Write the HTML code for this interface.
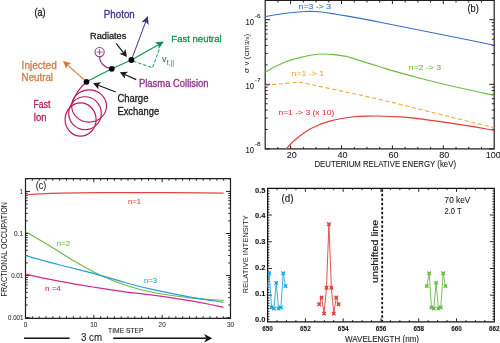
<!DOCTYPE html>
<html><head><meta charset="utf-8"><title>Figure</title>
<style>
html,body{margin:0;padding:0;background:#fff;}
body{width:500px;height:343px;overflow:hidden;position:relative;}
svg{position:absolute;left:0;top:0;display:block;}
text{font-family:'Liberation Sans',Arial,sans-serif;}
.t{stroke-width:0.3px;paint-order:stroke;}
</style></head><body>
<svg width="500" height="343" viewBox="0 0 500 343">
<rect width="500" height="343" fill="#fff"/>
<g fill="none" stroke="#bb1955" stroke-width="1.15">
<path d="M86.3,82.2 Q76.5,90 71.8,103.8"/>
<ellipse cx="89.1" cy="106" rx="17.4" ry="16.1"/>
<ellipse cx="85" cy="113.2" rx="16.3" ry="16.5"/>
<ellipse cx="80.6" cy="119.5" rx="15.5" ry="16.6"/>
</g>
<path d="M63,61 L71.14,63.27 L67.42,64.91 L66.24,68.81 Z" fill="#d8732f"/>
<line x1="86.5" y1="81.8" x2="67.42" y2="64.91" stroke="#d8732f" stroke-width="1.1"/>
<path d="M163.9,41.6 L158.64,48.95 L158.42,44.7 L154.89,42.33 Z" fill="#119350"/>
<path d="M86.5,81.8 L111.8,68.8 L131.4,60 L158.42,44.7" fill="none" stroke="#119350" stroke-width="1.1"/>
<path d="M147.9,15.9 L148.68,24.95 L145.69,21.8 L141.37,22.21 Z" fill="#43318c"/>
<line x1="131.4" y1="60" x2="145.69" y2="21.8" stroke="#43318c" stroke-width="1.0"/>
<path d="M133.4,61.2 L152.5,67.8 L159.9,47.6" fill="none" stroke="#119350" stroke-width="1.0" stroke-dasharray="3.3,1.9"/>
<circle cx="99.6" cy="52.1" r="4.6" fill="none" stroke="#8e2f8c" stroke-width="1.05"/>
<path d="M96.6,52.1 H102.6 M99.6,49.1 V55.1" stroke="#8e2f8c" stroke-width="0.8"/>
<path d="M99.6,56.7 C99.6,63 105,67.8 111,68.6" fill="none" stroke="#8e2f8c" stroke-width="1.2"/>
<circle cx="86.5" cy="81.8" r="2.9" fill="#0a0a14"/>
<circle cx="111.8" cy="68.8" r="2.9" fill="#0a0a14"/>
<circle cx="131.4" cy="60" r="2.9" fill="#0a0a14"/>
<path d="M127,57.1 L119.35,53.71 L123.59,52.78 L125.47,48.88 Z" fill="#1a1a1a"/>
<line x1="116.1" y1="43.3" x2="123.59" y2="52.78" stroke="#1a1a1a" stroke-width="1.25"/>
<path d="M119.8,72.3 L128.15,71.75 L124.82,74.54 L124.97,78.87 Z" fill="#1a1a1a"/>
<line x1="136.2" y1="79.6" x2="124.82" y2="74.54" stroke="#1a1a1a" stroke-width="1.25"/>
<path d="M93,83.3 L101.3,82.29 L98.14,85.26 L98.52,89.58 Z" fill="#1a1a1a"/>
<line x1="115.8" y1="92" x2="98.14" y2="85.26" stroke="#1a1a1a" stroke-width="1.25"/>
<text x="34.6" y="16.3" font-size="10.2" fill="#1a1a1a" stroke="#1a1a1a" stroke-width="0.3" textLength="11" lengthAdjust="spacingAndGlyphs" font-family="'Liberation Sans', Arial, sans-serif">(a)</text>
<text x="103.8" y="18" font-size="10" fill="#43318c" stroke="#43318c" stroke-width="0.3" textLength="31" lengthAdjust="spacingAndGlyphs" font-family="'Liberation Sans', Arial, sans-serif">Photon</text>
<text x="90.1" y="39" font-size="9.6" fill="#1a1a1a" stroke="#1a1a1a" stroke-width="0.3" textLength="36.2" lengthAdjust="spacingAndGlyphs" font-family="'Liberation Sans', Arial, sans-serif">Radiates</text>
<text x="171.3" y="41.6" font-size="9.3" fill="#119350" stroke="#119350" stroke-width="0.3" textLength="50.4" lengthAdjust="spacingAndGlyphs" font-family="'Liberation Sans', Arial, sans-serif">Fast neutral</text>
<text x="162" y="62.3" font-size="9" fill="#119350" stroke="#119350" stroke-width="0.05" font-family="'Liberation Sans', Arial, sans-serif">v</text>
<text x="166.5" y="65.4" font-size="6.4" fill="#119350" textLength="7.6" lengthAdjust="spacingAndGlyphs" font-family="'Liberation Sans', Arial, sans-serif">f,||</text>
<text x="21.6" y="68.9" font-size="10.4" fill="#d47a45" stroke="#d47a45" stroke-width="0.3" textLength="35.2" lengthAdjust="spacingAndGlyphs" font-family="'Liberation Sans', Arial, sans-serif">Injected</text>
<text x="21.6" y="81.1" font-size="10.4" fill="#d47a45" stroke="#d47a45" stroke-width="0.3" textLength="31.4" lengthAdjust="spacingAndGlyphs" font-family="'Liberation Sans', Arial, sans-serif">Neutral</text>
<text x="139" y="86.7" font-size="10" fill="#8e2f8c" stroke="#8e2f8c" stroke-width="0.3" textLength="69.6" lengthAdjust="spacingAndGlyphs" font-family="'Liberation Sans', Arial, sans-serif">Plasma Collision</text>
<text x="117.4" y="102" font-size="10.2" fill="#1a1a1a" stroke="#1a1a1a" stroke-width="0.3" textLength="31" lengthAdjust="spacingAndGlyphs" font-family="'Liberation Sans', Arial, sans-serif">Charge</text>
<text x="117.4" y="114.8" font-size="10.2" fill="#1a1a1a" stroke="#1a1a1a" stroke-width="0.3" textLength="41.8" lengthAdjust="spacingAndGlyphs" font-family="'Liberation Sans', Arial, sans-serif">Exchange</text>
<text x="33.6" y="108.2" font-size="10.4" fill="#b0205e" stroke="#b0205e" stroke-width="0.3" textLength="16.8" lengthAdjust="spacingAndGlyphs" font-family="'Liberation Sans', Arial, sans-serif">Fast</text>
<text x="33.4" y="120.6" font-size="10.4" fill="#b0205e" stroke="#b0205e" stroke-width="0.3" textLength="13.2" lengthAdjust="spacingAndGlyphs" font-family="'Liberation Sans', Arial, sans-serif">Ion</text>
<path d="M265.2,0.5 H494.2 V148.9 H265.2 Z" fill="none" stroke="#231f20" stroke-width="1.2"/>
<path d="M277.92,148.9 v-2 M277.92,0.5 v2 M290.64,148.9 v-3.5 M290.64,0.5 v3.5 M303.37,148.9 v-2 M303.37,0.5 v2 M316.09,148.9 v-2 M316.09,0.5 v2 M328.81,148.9 v-2 M328.81,0.5 v2 M341.53,148.9 v-3.5 M341.53,0.5 v3.5 M354.26,148.9 v-2 M354.26,0.5 v2 M366.98,148.9 v-2 M366.98,0.5 v2 M379.7,148.9 v-2 M379.7,0.5 v2 M392.42,148.9 v-3.5 M392.42,0.5 v3.5 M405.14,148.9 v-2 M405.14,0.5 v2 M417.87,148.9 v-2 M417.87,0.5 v2 M430.59,148.9 v-2 M430.59,0.5 v2 M443.31,148.9 v-3.5 M443.31,0.5 v3.5 M456.03,148.9 v-2 M456.03,0.5 v2 M468.76,148.9 v-2 M468.76,0.5 v2 M481.48,148.9 v-2 M481.48,0.5 v2 M265.2,148.9 h5 M494.2,148.9 h-5 M265.2,129.45 h2.4 M494.2,129.45 h-2.4 M265.2,118.08 h2.4 M494.2,118.08 h-2.4 M265.2,110.01 h2.4 M494.2,110.01 h-2.4 M265.2,103.75 h2.4 M494.2,103.75 h-2.4 M265.2,98.63 h2.4 M494.2,98.63 h-2.4 M265.2,94.31 h2.4 M494.2,94.31 h-2.4 M265.2,90.56 h2.4 M494.2,90.56 h-2.4 M265.2,87.26 h2.4 M494.2,87.26 h-2.4 M265.2,84.3 h5 M494.2,84.3 h-5 M265.2,64.85 h2.4 M494.2,64.85 h-2.4 M265.2,53.48 h2.4 M494.2,53.48 h-2.4 M265.2,45.41 h2.4 M494.2,45.41 h-2.4 M265.2,39.15 h2.4 M494.2,39.15 h-2.4 M265.2,34.03 h2.4 M494.2,34.03 h-2.4 M265.2,29.71 h2.4 M494.2,29.71 h-2.4 M265.2,25.96 h2.4 M494.2,25.96 h-2.4 M265.2,22.66 h2.4 M494.2,22.66 h-2.4 M265.2,19.7 h5 M494.2,19.7 h-5" stroke="#231f20" stroke-width="1.0" fill="none"/>
<path d="M265.2,16.7 C267,16.37 272.2,15.32 276,14.7 C279.8,14.08 283.2,13.53 288,13 C292.8,12.47 299.63,11.72 304.8,11.5 C309.97,11.28 313.8,11.25 319,11.7 C324.2,12.15 329.17,13.08 336,14.2 C342.83,15.32 352.67,17.07 360,18.4 C367.33,19.73 373.33,20.88 380,22.2 C386.67,23.52 391.67,24.63 400,26.3 C408.33,27.97 418.33,29.87 430,32.2 C441.67,34.53 459.3,38.12 470,40.3 C480.7,42.48 490.17,44.47 494.2,45.3" fill="none" stroke="#3a6fc4" stroke-width="1.15"/>
<path d="M265.2,72.2 C267,71.22 272.2,68.17 276,66.3 C279.8,64.43 284,62.45 288,61 C292,59.55 296,58.6 300,57.6 C304,56.6 308.33,55.6 312,55 C315.67,54.4 318.33,54.07 322,54 C325.67,53.93 329.83,54.18 334,54.6 C338.17,55.02 344.83,56.18 347,56.5 L347,56.5 C349.17,57.18 354.5,58.88 360,60.6 C365.5,62.32 374.17,65 380,66.8 C385.83,68.6 388.33,69.5 395,71.4 C401.67,73.3 410,75.63 420,78.2 C430,80.77 442.63,83.93 455,86.8 C467.37,89.67 487.67,93.97 494.2,95.4" fill="none" stroke="#6cbb45" stroke-width="1.15" stroke-linejoin="round"/>
<path d="M265.2,85.6 C268,85.28 276.4,84.25 282,83.7 C287.6,83.15 294.8,82.33 298.8,82.3 C302.8,82.27 303,82.92 306,83.5 C309,84.08 312.8,84.95 316.8,85.8 C320.8,86.65 325.63,87.67 330,88.6 C334.37,89.53 338,90.33 343,91.4 C348,92.47 353.83,93.63 360,95 C366.17,96.37 373.33,98.05 380,99.6 C386.67,101.15 390,101.85 400,104.3 C410,106.75 430,111.8 440,114.3 C450,116.8 450.97,117.08 460,119.3 C469.03,121.52 488.5,126.22 494.2,127.6" fill="none" stroke="#f0aa35" stroke-width="1.1" stroke-dasharray="4.2,2.6"/>
<path d="M286.2,149 C287.5,147.63 290.7,143.73 294,140.8 C297.3,137.87 302,134 306,131.4 C310,128.8 314,126.92 318,125.2 C322,123.48 326,122.22 330,121.1 C334,119.98 338,119.22 342,118.5 C346,117.78 350,117.2 354,116.8 C358,116.4 362,116.23 366,116.1 C370,115.97 372.33,115.87 378,116 C383.67,116.13 393,116.42 400,116.9 C407,117.38 410,117.62 420,118.9 C430,120.18 447.63,122.7 460,124.6 C472.37,126.5 488.5,129.35 494.2,130.3" fill="none" stroke="#e23b3b" stroke-width="1.15"/>
<text x="298.6" y="9.4" font-size="7.6" fill="#3a6fc4" stroke="#3a6fc4" stroke-width="0.08" textLength="32.4" lengthAdjust="spacingAndGlyphs" font-family="'Liberation Sans', Arial, sans-serif">n=3 -&gt; 3</text>
<text x="408.8" y="70" font-size="7.6" fill="#6cbb45" stroke="#6cbb45" stroke-width="0.08" textLength="32.4" lengthAdjust="spacingAndGlyphs" font-family="'Liberation Sans', Arial, sans-serif">n=2 -&gt; 3</text>
<text x="291.6" y="76.4" font-size="7.6" fill="#f0aa35" stroke="#f0aa35" stroke-width="0.08" textLength="32.4" lengthAdjust="spacingAndGlyphs" font-family="'Liberation Sans', Arial, sans-serif">n=1 -&gt; 1</text>
<text x="278.4" y="115" font-size="7.6" fill="#e23b3b" stroke="#e23b3b" stroke-width="0.08" textLength="55.9" lengthAdjust="spacingAndGlyphs" font-family="'Liberation Sans', Arial, sans-serif">n=1 -&gt; 3 (x 10)</text>
<text x="467.5" y="11.9" font-size="10" fill="#1a1a1a" stroke="#1a1a1a" stroke-width="0.2" textLength="11.3" lengthAdjust="spacingAndGlyphs" font-family="'Liberation Sans', Arial, sans-serif">(b)</text>
<text x="245.4" y="24.8" font-size="9.2" fill="#1a1a1a" stroke="#1a1a1a" stroke-width="0.08" textLength="8.6" lengthAdjust="spacingAndGlyphs" font-family="'Liberation Sans', Arial, sans-serif">10</text>
<text x="254.8" y="17.8" font-size="6" fill="#1a1a1a" stroke="#1a1a1a" stroke-width="0.08" textLength="5.8" lengthAdjust="spacingAndGlyphs" font-family="'Liberation Sans', Arial, sans-serif">-6</text>
<text x="245.4" y="88.8" font-size="9.2" fill="#1a1a1a" stroke="#1a1a1a" stroke-width="0.08" textLength="8.6" lengthAdjust="spacingAndGlyphs" font-family="'Liberation Sans', Arial, sans-serif">10</text>
<text x="254.8" y="81.8" font-size="6" fill="#1a1a1a" stroke="#1a1a1a" stroke-width="0.08" textLength="5.8" lengthAdjust="spacingAndGlyphs" font-family="'Liberation Sans', Arial, sans-serif">-7</text>
<text x="245.4" y="152.6" font-size="9.2" fill="#1a1a1a" stroke="#1a1a1a" stroke-width="0.08" textLength="8.6" lengthAdjust="spacingAndGlyphs" font-family="'Liberation Sans', Arial, sans-serif">10</text>
<text x="254.8" y="145.6" font-size="6" fill="#1a1a1a" stroke="#1a1a1a" stroke-width="0.08" textLength="5.8" lengthAdjust="spacingAndGlyphs" font-family="'Liberation Sans', Arial, sans-serif">-8</text>
<text x="291.64" y="157.6" font-size="9" fill="#1a1a1a" stroke="#1a1a1a" stroke-width="0.08" text-anchor="middle" font-family="'Liberation Sans', Arial, sans-serif">20</text>
<text x="342.53" y="157.6" font-size="9" fill="#1a1a1a" stroke="#1a1a1a" stroke-width="0.08" text-anchor="middle" font-family="'Liberation Sans', Arial, sans-serif">40</text>
<text x="393.42" y="157.6" font-size="9" fill="#1a1a1a" stroke="#1a1a1a" stroke-width="0.08" text-anchor="middle" font-family="'Liberation Sans', Arial, sans-serif">60</text>
<text x="444.31" y="157.6" font-size="9" fill="#1a1a1a" stroke="#1a1a1a" stroke-width="0.08" text-anchor="middle" font-family="'Liberation Sans', Arial, sans-serif">80</text>
<text x="493.3" y="157.6" font-size="9" fill="#1a1a1a" stroke="#1a1a1a" stroke-width="0.08" text-anchor="middle" font-family="'Liberation Sans', Arial, sans-serif">100</text>
<text x="314.4" y="166.6" font-size="8.6" fill="#1a1a1a" stroke="#1a1a1a" stroke-width="0.08" textLength="141.6" lengthAdjust="spacingAndGlyphs" font-family="'Liberation Sans', Arial, sans-serif">DEUTERIUM RELATIVE ENERGY (keV)</text>
<text transform="translate(248.8,73) rotate(-90)" font-size="7.0" fill="#1a1a1a" font-family="'Liberation Sans', Arial, sans-serif" textLength="39.3" lengthAdjust="spacingAndGlyphs">σ v (cm<tspan font-size="5.6">3/s</tspan>)</text>
<path d="M25.5,178.7 H230.5 V318.3 H25.5 Z" fill="none" stroke="#231f20" stroke-width="1.2"/>
<path d="M32.33,318.3 v-2 M32.33,178.7 v2 M39.17,318.3 v-2 M39.17,178.7 v2 M46,318.3 v-2 M46,178.7 v2 M52.83,318.3 v-2 M52.83,178.7 v2 M59.67,318.3 v-2 M59.67,178.7 v2 M66.5,318.3 v-2 M66.5,178.7 v2 M73.33,318.3 v-2 M73.33,178.7 v2 M80.17,318.3 v-2 M80.17,178.7 v2 M87,318.3 v-2 M87,178.7 v2 M93.83,318.3 v-3.5 M93.83,178.7 v3.5 M100.67,318.3 v-2 M100.67,178.7 v2 M107.5,318.3 v-2 M107.5,178.7 v2 M114.33,318.3 v-2 M114.33,178.7 v2 M121.17,318.3 v-2 M121.17,178.7 v2 M128,318.3 v-2 M128,178.7 v2 M134.83,318.3 v-2 M134.83,178.7 v2 M141.67,318.3 v-2 M141.67,178.7 v2 M148.5,318.3 v-2 M148.5,178.7 v2 M155.33,318.3 v-2 M155.33,178.7 v2 M162.17,318.3 v-3.5 M162.17,178.7 v3.5 M169,318.3 v-2 M169,178.7 v2 M175.83,318.3 v-2 M175.83,178.7 v2 M182.67,318.3 v-2 M182.67,178.7 v2 M189.5,318.3 v-2 M189.5,178.7 v2 M196.33,318.3 v-2 M196.33,178.7 v2 M203.17,318.3 v-2 M203.17,178.7 v2 M210,318.3 v-2 M210,178.7 v2 M216.83,318.3 v-2 M216.83,178.7 v2 M223.67,318.3 v-2 M223.67,178.7 v2 M25.5,317.7 h4.4 M230.5,317.7 h-4.4 M25.5,305.03 h2.2 M230.5,305.03 h-2.2 M25.5,297.61 h2.2 M230.5,297.61 h-2.2 M25.5,292.35 h2.2 M230.5,292.35 h-2.2 M25.5,288.27 h2.2 M230.5,288.27 h-2.2 M25.5,284.94 h2.2 M230.5,284.94 h-2.2 M25.5,282.12 h2.2 M230.5,282.12 h-2.2 M25.5,279.68 h2.2 M230.5,279.68 h-2.2 M25.5,277.53 h2.2 M230.5,277.53 h-2.2 M25.5,275.6 h4.4 M230.5,275.6 h-4.4 M25.5,262.93 h2.2 M230.5,262.93 h-2.2 M25.5,255.51 h2.2 M230.5,255.51 h-2.2 M25.5,250.25 h2.2 M230.5,250.25 h-2.2 M25.5,246.17 h2.2 M230.5,246.17 h-2.2 M25.5,242.84 h2.2 M230.5,242.84 h-2.2 M25.5,240.02 h2.2 M230.5,240.02 h-2.2 M25.5,237.58 h2.2 M230.5,237.58 h-2.2 M25.5,235.43 h2.2 M230.5,235.43 h-2.2 M25.5,233.5 h4.4 M230.5,233.5 h-4.4 M25.5,220.83 h2.2 M230.5,220.83 h-2.2 M25.5,213.41 h2.2 M230.5,213.41 h-2.2 M25.5,208.15 h2.2 M230.5,208.15 h-2.2 M25.5,204.07 h2.2 M230.5,204.07 h-2.2 M25.5,200.74 h2.2 M230.5,200.74 h-2.2 M25.5,197.92 h2.2 M230.5,197.92 h-2.2 M25.5,195.48 h2.2 M230.5,195.48 h-2.2 M25.5,193.33 h2.2 M230.5,193.33 h-2.2 M25.5,191.4 h4.4 M230.5,191.4 h-4.4 M25.5,178.73 h2.2 M230.5,178.73 h-2.2" stroke="#231f20" stroke-width="1.0" fill="none"/>
<path d="M25.5,195 C27.92,194.82 34.25,194.22 40,193.9 C45.75,193.58 50,193.32 60,193.1 C70,192.88 85,192.68 100,192.6 C115,192.52 133.33,192.55 150,192.6 C166.67,192.65 187.73,192.8 200,192.9 C212.27,193 219.67,193.15 223.6,193.2" fill="none" stroke="#e2453f" stroke-width="1.2"/>
<path d="M25.5,231.6 C29.58,234 41.75,241.02 50,246 C58.25,250.98 66.67,256.67 75,261.5 C83.33,266.33 91.67,271.08 100,275 C108.33,278.92 116.5,282.17 125,285 C133.5,287.83 139.67,289.8 151,292 C162.33,294.2 180.9,296.82 193,298.2 C205.1,299.58 218.5,299.95 223.6,300.3" fill="none" stroke="#6cbb45" stroke-width="1.2"/>
<path d="M25.5,255.6 C31.25,257.17 48.42,261.97 60,265 C71.58,268.03 84.17,270.88 95,273.8 C105.83,276.72 115.67,279.93 125,282.5 C134.33,285.07 139.67,286.68 151,289.2 C162.33,291.72 180.9,295.42 193,297.6 C205.1,299.78 218.5,301.52 223.6,302.3" fill="none" stroke="#279fd9" stroke-width="1.2"/>
<path d="M25.5,274.2 C31.25,275.4 48.42,279.22 60,281.4 C71.58,283.58 84.17,285.57 95,287.3 C105.83,289.03 115.67,290.53 125,291.8 C134.33,293.07 139.67,293.33 151,294.9 C162.33,296.47 180.9,299.12 193,301.2 C205.1,303.28 218.5,306.37 223.6,307.4" fill="none" stroke="#d4298f" stroke-width="1.2"/>
<text x="128" y="204.2" font-size="7" fill="#e2453f" stroke="#e2453f" stroke-width="0.08" textLength="13" lengthAdjust="spacingAndGlyphs" font-family="'Liberation Sans', Arial, sans-serif">n=1</text>
<text x="56.8" y="245.8" font-size="7" fill="#6cbb45" stroke="#6cbb45" stroke-width="0.08" textLength="13.3" lengthAdjust="spacingAndGlyphs" font-family="'Liberation Sans', Arial, sans-serif">n=2</text>
<text x="144" y="282.5" font-size="7" fill="#279fd9" stroke="#279fd9" stroke-width="0.08" textLength="13.2" lengthAdjust="spacingAndGlyphs" font-family="'Liberation Sans', Arial, sans-serif">n=3</text>
<text x="45" y="290.5" font-size="7" fill="#d4298f" stroke="#d4298f" stroke-width="0.08" textLength="15.8" lengthAdjust="spacingAndGlyphs" font-family="'Liberation Sans', Arial, sans-serif">n =4</text>
<text x="35.8" y="189.4" font-size="10" fill="#1a1a1a" stroke="#1a1a1a" stroke-width="0.08" textLength="10.5" lengthAdjust="spacingAndGlyphs" font-family="'Liberation Sans', Arial, sans-serif">(c)</text>
<text x="23" y="193.6" font-size="6.4" fill="#333" stroke="#333" stroke-width="0.08" text-anchor="end" font-family="'Liberation Sans', Arial, sans-serif">1</text>
<text x="23" y="235.5" font-size="6.4" fill="#333" stroke="#333" stroke-width="0.08" text-anchor="end" textLength="9" lengthAdjust="spacingAndGlyphs" font-family="'Liberation Sans', Arial, sans-serif">0.1</text>
<text x="23.3" y="277.6" font-size="6.4" fill="#333" stroke="#333" stroke-width="0.08" text-anchor="end" textLength="12.1" lengthAdjust="spacingAndGlyphs" font-family="'Liberation Sans', Arial, sans-serif">0.01</text>
<text x="23.3" y="319.6" font-size="6.4" fill="#333" stroke="#333" stroke-width="0.08" text-anchor="end" textLength="15.2" lengthAdjust="spacingAndGlyphs" font-family="'Liberation Sans', Arial, sans-serif">0.001</text>
<text x="25.5" y="326.6" font-size="6.4" fill="#333" stroke="#333" stroke-width="0.08" text-anchor="middle" font-family="'Liberation Sans', Arial, sans-serif">0</text>
<text x="93.83" y="326.6" font-size="6.4" fill="#333" stroke="#333" stroke-width="0.08" text-anchor="middle" font-family="'Liberation Sans', Arial, sans-serif">10</text>
<text x="162.17" y="326.6" font-size="6.4" fill="#333" stroke="#333" stroke-width="0.08" text-anchor="middle" font-family="'Liberation Sans', Arial, sans-serif">20</text>
<text x="230.5" y="326.6" font-size="6.4" fill="#333" stroke="#333" stroke-width="0.08" text-anchor="middle" font-family="'Liberation Sans', Arial, sans-serif">30</text>
<text x="108.1" y="332.7" font-size="7.6" fill="#1a1a1a" stroke="#1a1a1a" stroke-width="0.08" textLength="35.5" lengthAdjust="spacingAndGlyphs" font-family="'Liberation Sans', Arial, sans-serif">TIME STEP</text>
<text transform="translate(7.0,296.5) rotate(-90)" font-size="8.4" fill="#1a1a1a" font-family="'Liberation Sans', Arial, sans-serif" textLength="94.5" lengthAdjust="spacingAndGlyphs">FRACTIONAL OCCUPATION</text>
<line x1="24" y1="338.3" x2="69.6" y2="338.3" stroke="#111" stroke-width="1.6"/>
<line x1="113.2" y1="338.3" x2="206" y2="338.3" stroke="#111" stroke-width="1.6"/>
<path d="M212.2,338.3 L204.2,334.0 L206.4,338.3 L204.2,342.6 Z" fill="#111"/>
<text x="80.9" y="340.5" font-size="10" fill="#1a1a1a" stroke="#1a1a1a" stroke-width="0.08" textLength="21.1" lengthAdjust="spacingAndGlyphs" font-family="'Liberation Sans', Arial, sans-serif">3 cm</text>
<path d="M267.6,188.3 H494.3 V321.9 H267.6 Z" fill="none" stroke="#111" stroke-width="1.2"/>
<path d="M277.05,321.9 v-1.8 M277.05,188.3 v1.8 M286.49,321.9 v-1.8 M286.49,188.3 v1.8 M295.94,321.9 v-1.8 M295.94,188.3 v1.8 M305.38,321.9 v-3.6 M305.38,188.3 v3.6 M314.83,321.9 v-1.8 M314.83,188.3 v1.8 M324.28,321.9 v-1.8 M324.28,188.3 v1.8 M333.72,321.9 v-1.8 M333.72,188.3 v1.8 M343.17,321.9 v-3.6 M343.17,188.3 v3.6 M352.61,321.9 v-1.8 M352.61,188.3 v1.8 M362.06,321.9 v-1.8 M362.06,188.3 v1.8 M371.5,321.9 v-1.8 M371.5,188.3 v1.8 M380.95,321.9 v-3.6 M380.95,188.3 v3.6 M390.4,321.9 v-1.8 M390.4,188.3 v1.8 M399.84,321.9 v-1.8 M399.84,188.3 v1.8 M409.29,321.9 v-1.8 M409.29,188.3 v1.8 M418.73,321.9 v-3.6 M418.73,188.3 v3.6 M428.18,321.9 v-1.8 M428.18,188.3 v1.8 M437.62,321.9 v-1.8 M437.62,188.3 v1.8 M447.07,321.9 v-1.8 M447.07,188.3 v1.8 M456.52,321.9 v-3.6 M456.52,188.3 v3.6 M465.96,321.9 v-1.8 M465.96,188.3 v1.8 M475.41,321.9 v-1.8 M475.41,188.3 v1.8 M484.85,321.9 v-1.8 M484.85,188.3 v1.8 M267.6,319.23 h1.8 M494.3,319.23 h-1.8 M267.6,316.56 h1.8 M494.3,316.56 h-1.8 M267.6,313.88 h1.8 M494.3,313.88 h-1.8 M267.6,311.21 h1.8 M494.3,311.21 h-1.8 M267.6,308.54 h1.8 M494.3,308.54 h-1.8 M267.6,305.87 h1.8 M494.3,305.87 h-1.8 M267.6,303.2 h1.8 M494.3,303.2 h-1.8 M267.6,300.52 h1.8 M494.3,300.52 h-1.8 M267.6,297.85 h1.8 M494.3,297.85 h-1.8 M267.6,295.18 h4.3 M494.3,295.18 h-4.3 M267.6,292.51 h1.8 M494.3,292.51 h-1.8 M267.6,289.84 h1.8 M494.3,289.84 h-1.8 M267.6,287.16 h1.8 M494.3,287.16 h-1.8 M267.6,284.49 h1.8 M494.3,284.49 h-1.8 M267.6,281.82 h1.8 M494.3,281.82 h-1.8 M267.6,279.15 h1.8 M494.3,279.15 h-1.8 M267.6,276.48 h1.8 M494.3,276.48 h-1.8 M267.6,273.8 h1.8 M494.3,273.8 h-1.8 M267.6,271.13 h1.8 M494.3,271.13 h-1.8 M267.6,268.46 h4.3 M494.3,268.46 h-4.3 M267.6,265.79 h1.8 M494.3,265.79 h-1.8 M267.6,263.12 h1.8 M494.3,263.12 h-1.8 M267.6,260.44 h1.8 M494.3,260.44 h-1.8 M267.6,257.77 h1.8 M494.3,257.77 h-1.8 M267.6,255.1 h1.8 M494.3,255.1 h-1.8 M267.6,252.43 h1.8 M494.3,252.43 h-1.8 M267.6,249.76 h1.8 M494.3,249.76 h-1.8 M267.6,247.08 h1.8 M494.3,247.08 h-1.8 M267.6,244.41 h1.8 M494.3,244.41 h-1.8 M267.6,241.74 h4.3 M494.3,241.74 h-4.3 M267.6,239.07 h1.8 M494.3,239.07 h-1.8 M267.6,236.4 h1.8 M494.3,236.4 h-1.8 M267.6,233.72 h1.8 M494.3,233.72 h-1.8 M267.6,231.05 h1.8 M494.3,231.05 h-1.8 M267.6,228.38 h1.8 M494.3,228.38 h-1.8 M267.6,225.71 h1.8 M494.3,225.71 h-1.8 M267.6,223.04 h1.8 M494.3,223.04 h-1.8 M267.6,220.36 h1.8 M494.3,220.36 h-1.8 M267.6,217.69 h1.8 M494.3,217.69 h-1.8 M267.6,215.02 h4.3 M494.3,215.02 h-4.3 M267.6,212.35 h1.8 M494.3,212.35 h-1.8 M267.6,209.68 h1.8 M494.3,209.68 h-1.8 M267.6,207 h1.8 M494.3,207 h-1.8 M267.6,204.33 h1.8 M494.3,204.33 h-1.8 M267.6,201.66 h1.8 M494.3,201.66 h-1.8 M267.6,198.99 h1.8 M494.3,198.99 h-1.8 M267.6,196.32 h1.8 M494.3,196.32 h-1.8 M267.6,193.64 h1.8 M494.3,193.64 h-1.8 M267.6,190.97 h1.8 M494.3,190.97 h-1.8" stroke="#111" stroke-width="0.9" fill="none"/>
<text x="265.5" y="321.95" font-size="6.6" fill="#1a1a1a" stroke="#1a1a1a" stroke-width="0.1" text-anchor="end" textLength="10.4" lengthAdjust="spacingAndGlyphs" font-family="'Liberation Sans', Arial, sans-serif" font-weight="bold">0.0</text>
<text x="265.5" y="296.07" font-size="6.6" fill="#1a1a1a" stroke="#1a1a1a" stroke-width="0.1" text-anchor="end" textLength="10.4" lengthAdjust="spacingAndGlyphs" font-family="'Liberation Sans', Arial, sans-serif" font-weight="bold">0.1</text>
<text x="265.5" y="270.19" font-size="6.6" fill="#1a1a1a" stroke="#1a1a1a" stroke-width="0.1" text-anchor="end" textLength="10.4" lengthAdjust="spacingAndGlyphs" font-family="'Liberation Sans', Arial, sans-serif" font-weight="bold">0.2</text>
<text x="265.5" y="244.31" font-size="6.6" fill="#1a1a1a" stroke="#1a1a1a" stroke-width="0.1" text-anchor="end" textLength="10.4" lengthAdjust="spacingAndGlyphs" font-family="'Liberation Sans', Arial, sans-serif" font-weight="bold">0.3</text>
<text x="265.5" y="218.43" font-size="6.6" fill="#1a1a1a" stroke="#1a1a1a" stroke-width="0.1" text-anchor="end" textLength="10.4" lengthAdjust="spacingAndGlyphs" font-family="'Liberation Sans', Arial, sans-serif" font-weight="bold">0.4</text>
<text x="265.5" y="192.55" font-size="6.6" fill="#1a1a1a" stroke="#1a1a1a" stroke-width="0.1" text-anchor="end" textLength="10.4" lengthAdjust="spacingAndGlyphs" font-family="'Liberation Sans', Arial, sans-serif" font-weight="bold">0.5</text>
<text x="267.6" y="331.3" font-size="6.6" fill="#1a1a1a" stroke="#1a1a1a" stroke-width="0.1" text-anchor="middle" textLength="10.6" lengthAdjust="spacingAndGlyphs" font-family="'Liberation Sans', Arial, sans-serif" font-weight="bold">650</text>
<text x="305.38" y="331.3" font-size="6.6" fill="#1a1a1a" stroke="#1a1a1a" stroke-width="0.1" text-anchor="middle" textLength="10.6" lengthAdjust="spacingAndGlyphs" font-family="'Liberation Sans', Arial, sans-serif" font-weight="bold">652</text>
<text x="343.17" y="331.3" font-size="6.6" fill="#1a1a1a" stroke="#1a1a1a" stroke-width="0.1" text-anchor="middle" textLength="10.6" lengthAdjust="spacingAndGlyphs" font-family="'Liberation Sans', Arial, sans-serif" font-weight="bold">654</text>
<text x="380.95" y="331.3" font-size="6.6" fill="#1a1a1a" stroke="#1a1a1a" stroke-width="0.1" text-anchor="middle" textLength="10.6" lengthAdjust="spacingAndGlyphs" font-family="'Liberation Sans', Arial, sans-serif" font-weight="bold">656</text>
<text x="418.73" y="331.3" font-size="6.6" fill="#1a1a1a" stroke="#1a1a1a" stroke-width="0.1" text-anchor="middle" textLength="10.6" lengthAdjust="spacingAndGlyphs" font-family="'Liberation Sans', Arial, sans-serif" font-weight="bold">658</text>
<text x="456.52" y="331.3" font-size="6.6" fill="#1a1a1a" stroke="#1a1a1a" stroke-width="0.1" text-anchor="middle" textLength="10.6" lengthAdjust="spacingAndGlyphs" font-family="'Liberation Sans', Arial, sans-serif" font-weight="bold">660</text>
<text x="494.3" y="331.3" font-size="6.6" fill="#1a1a1a" stroke="#1a1a1a" stroke-width="0.1" text-anchor="middle" textLength="10.6" lengthAdjust="spacingAndGlyphs" font-family="'Liberation Sans', Arial, sans-serif" font-weight="bold">662</text>
<text x="345" y="341.6" font-size="8.8" fill="#1a1a1a" stroke="#1a1a1a" stroke-width="0.1" textLength="74" lengthAdjust="spacingAndGlyphs" font-family="'Liberation Sans', Arial, sans-serif">WAVELENGTH (nm)</text>
<text transform="translate(248.2,293.6) rotate(-90)" font-size="8.0" fill="#1a1a1a" font-family="'Liberation Sans', Arial, sans-serif" textLength="78.3" lengthAdjust="spacingAndGlyphs">RELATIVE INTENSITY</text>
<text x="281.6" y="201.8" font-size="10" fill="#1a1a1a" stroke="#1a1a1a" stroke-width="0.15" textLength="11.9" lengthAdjust="spacingAndGlyphs" font-family="'Liberation Sans', Arial, sans-serif">(d)</text>
<text x="444.6" y="203.1" font-size="8.8" fill="#1a1a1a" stroke="#1a1a1a" stroke-width="0.1" textLength="25.6" lengthAdjust="spacingAndGlyphs" font-family="'Liberation Sans', Arial, sans-serif">70 keV</text>
<text x="444.6" y="214.1" font-size="8.8" fill="#1a1a1a" stroke="#1a1a1a" stroke-width="0.1" textLength="17" lengthAdjust="spacingAndGlyphs" font-family="'Liberation Sans', Arial, sans-serif">2.0 T</text>
<text transform="translate(377.5,283.0) rotate(-90)" font-size="9.4" fill="#1a1a1a" stroke="#1a1a1a" stroke-width="0.2" font-family="'Liberation Sans', Arial, sans-serif" textLength="63.2" lengthAdjust="spacingAndGlyphs">unshifted line</text>
<line x1="382.2" y1="189.2" x2="382.2" y2="321.5" stroke="#111" stroke-width="1.8" stroke-dasharray="2.6,1.9"/>
<defs><clipPath id="dclip"><rect x="267.6" y="188.3" width="226.7" height="133.6"/></clipPath></defs>
<g clip-path="url(#dclip)">
<path d="M266.9,286.1 L269.23,273.27 L271.56,307.47 L273.89,308.54 L276.22,282.89 L278.55,308.54 L280.88,307.47 L283.21,273.27 L285.54,286.1" fill="none" stroke="#27a6e0" stroke-width="0.9"/>
<path d="M265.1,284.3 l3.6,3.6 M268.7,284.3 l-3.6,3.6" stroke="#27a6e0" stroke-width="1.2"/>
<rect x="265.6" y="284.8" width="2.6" height="2.6" fill="#27a6e0"/>
<path d="M267.43,271.47 l3.6,3.6 M271.03,271.47 l-3.6,3.6" stroke="#27a6e0" stroke-width="1.2"/>
<rect x="267.93" y="271.97" width="2.6" height="2.6" fill="#27a6e0"/>
<path d="M269.76,305.67 l3.6,3.6 M273.36,305.67 l-3.6,3.6" stroke="#27a6e0" stroke-width="1.2"/>
<rect x="270.26" y="306.17" width="2.6" height="2.6" fill="#27a6e0"/>
<path d="M272.09,306.74 l3.6,3.6 M275.69,306.74 l-3.6,3.6" stroke="#27a6e0" stroke-width="1.2"/>
<rect x="272.59" y="307.24" width="2.6" height="2.6" fill="#27a6e0"/>
<path d="M274.42,281.09 l3.6,3.6 M278.02,281.09 l-3.6,3.6" stroke="#27a6e0" stroke-width="1.2"/>
<rect x="274.92" y="281.59" width="2.6" height="2.6" fill="#27a6e0"/>
<path d="M276.75,306.74 l3.6,3.6 M280.35,306.74 l-3.6,3.6" stroke="#27a6e0" stroke-width="1.2"/>
<rect x="277.25" y="307.24" width="2.6" height="2.6" fill="#27a6e0"/>
<path d="M279.08,305.67 l3.6,3.6 M282.68,305.67 l-3.6,3.6" stroke="#27a6e0" stroke-width="1.2"/>
<rect x="279.58" y="306.17" width="2.6" height="2.6" fill="#27a6e0"/>
<path d="M281.41,271.47 l3.6,3.6 M285.01,271.47 l-3.6,3.6" stroke="#27a6e0" stroke-width="1.2"/>
<rect x="281.91" y="271.97" width="2.6" height="2.6" fill="#27a6e0"/>
<path d="M283.74,284.3 l3.6,3.6 M287.34,284.3 l-3.6,3.6" stroke="#27a6e0" stroke-width="1.2"/>
<rect x="284.24" y="284.8" width="2.6" height="2.6" fill="#27a6e0"/>
</g>
<g clip-path="url(#dclip)">
<path d="M426.8,286.1 L429.13,273.27 L431.46,307.47 L433.79,308.54 L436.12,282.89 L438.45,308.54 L440.78,307.47 L443.11,273.27 L445.44,286.1" fill="none" stroke="#6cbb45" stroke-width="0.9"/>
<path d="M425,284.3 l3.6,3.6 M428.6,284.3 l-3.6,3.6" stroke="#6cbb45" stroke-width="1.2"/>
<rect x="425.5" y="284.8" width="2.6" height="2.6" fill="#6cbb45"/>
<path d="M427.33,271.47 l3.6,3.6 M430.93,271.47 l-3.6,3.6" stroke="#6cbb45" stroke-width="1.2"/>
<rect x="427.83" y="271.97" width="2.6" height="2.6" fill="#6cbb45"/>
<path d="M429.66,305.67 l3.6,3.6 M433.26,305.67 l-3.6,3.6" stroke="#6cbb45" stroke-width="1.2"/>
<rect x="430.16" y="306.17" width="2.6" height="2.6" fill="#6cbb45"/>
<path d="M431.99,306.74 l3.6,3.6 M435.59,306.74 l-3.6,3.6" stroke="#6cbb45" stroke-width="1.2"/>
<rect x="432.49" y="307.24" width="2.6" height="2.6" fill="#6cbb45"/>
<path d="M434.32,281.09 l3.6,3.6 M437.92,281.09 l-3.6,3.6" stroke="#6cbb45" stroke-width="1.2"/>
<rect x="434.82" y="281.59" width="2.6" height="2.6" fill="#6cbb45"/>
<path d="M436.65,306.74 l3.6,3.6 M440.25,306.74 l-3.6,3.6" stroke="#6cbb45" stroke-width="1.2"/>
<rect x="437.15" y="307.24" width="2.6" height="2.6" fill="#6cbb45"/>
<path d="M438.98,305.67 l3.6,3.6 M442.58,305.67 l-3.6,3.6" stroke="#6cbb45" stroke-width="1.2"/>
<rect x="439.48" y="306.17" width="2.6" height="2.6" fill="#6cbb45"/>
<path d="M441.31,271.47 l3.6,3.6 M444.91,271.47 l-3.6,3.6" stroke="#6cbb45" stroke-width="1.2"/>
<rect x="441.81" y="271.97" width="2.6" height="2.6" fill="#6cbb45"/>
<path d="M443.64,284.3 l3.6,3.6 M447.24,284.3 l-3.6,3.6" stroke="#6cbb45" stroke-width="1.2"/>
<rect x="444.14" y="284.8" width="2.6" height="2.6" fill="#6cbb45"/>
</g>
<g clip-path="url(#dclip)">
<path d="M319.2,304.26 L321.63,297.58 L324.06,313.62 L326.49,287.7 L328.92,224.1 L331.35,287.7 L333.78,313.62 L336.21,297.58 L338.64,304.26" fill="none" stroke="#e0403c" stroke-width="0.9"/>
<path d="M317.4,302.46 l3.6,3.6 M321,302.46 l-3.6,3.6" stroke="#e0403c" stroke-width="1.2"/>
<rect x="317.9" y="302.96" width="2.6" height="2.6" fill="#e0403c"/>
<path d="M319.83,295.78 l3.6,3.6 M323.43,295.78 l-3.6,3.6" stroke="#e0403c" stroke-width="1.2"/>
<rect x="320.33" y="296.28" width="2.6" height="2.6" fill="#e0403c"/>
<path d="M322.26,311.82 l3.6,3.6 M325.86,311.82 l-3.6,3.6" stroke="#e0403c" stroke-width="1.2"/>
<rect x="322.76" y="312.32" width="2.6" height="2.6" fill="#e0403c"/>
<path d="M324.69,285.9 l3.6,3.6 M328.29,285.9 l-3.6,3.6" stroke="#e0403c" stroke-width="1.2"/>
<rect x="325.19" y="286.4" width="2.6" height="2.6" fill="#e0403c"/>
<path d="M327.12,222.3 l3.6,3.6 M330.72,222.3 l-3.6,3.6" stroke="#e0403c" stroke-width="1.2"/>
<rect x="327.62" y="222.8" width="2.6" height="2.6" fill="#e0403c"/>
<path d="M329.55,285.9 l3.6,3.6 M333.15,285.9 l-3.6,3.6" stroke="#e0403c" stroke-width="1.2"/>
<rect x="330.05" y="286.4" width="2.6" height="2.6" fill="#e0403c"/>
<path d="M331.98,311.82 l3.6,3.6 M335.58,311.82 l-3.6,3.6" stroke="#e0403c" stroke-width="1.2"/>
<rect x="332.48" y="312.32" width="2.6" height="2.6" fill="#e0403c"/>
<path d="M334.41,295.78 l3.6,3.6 M338.01,295.78 l-3.6,3.6" stroke="#e0403c" stroke-width="1.2"/>
<rect x="334.91" y="296.28" width="2.6" height="2.6" fill="#e0403c"/>
<path d="M336.84,302.46 l3.6,3.6 M340.44,302.46 l-3.6,3.6" stroke="#e0403c" stroke-width="1.2"/>
<rect x="337.34" y="302.96" width="2.6" height="2.6" fill="#e0403c"/>
</g>
</svg>
</body></html>
